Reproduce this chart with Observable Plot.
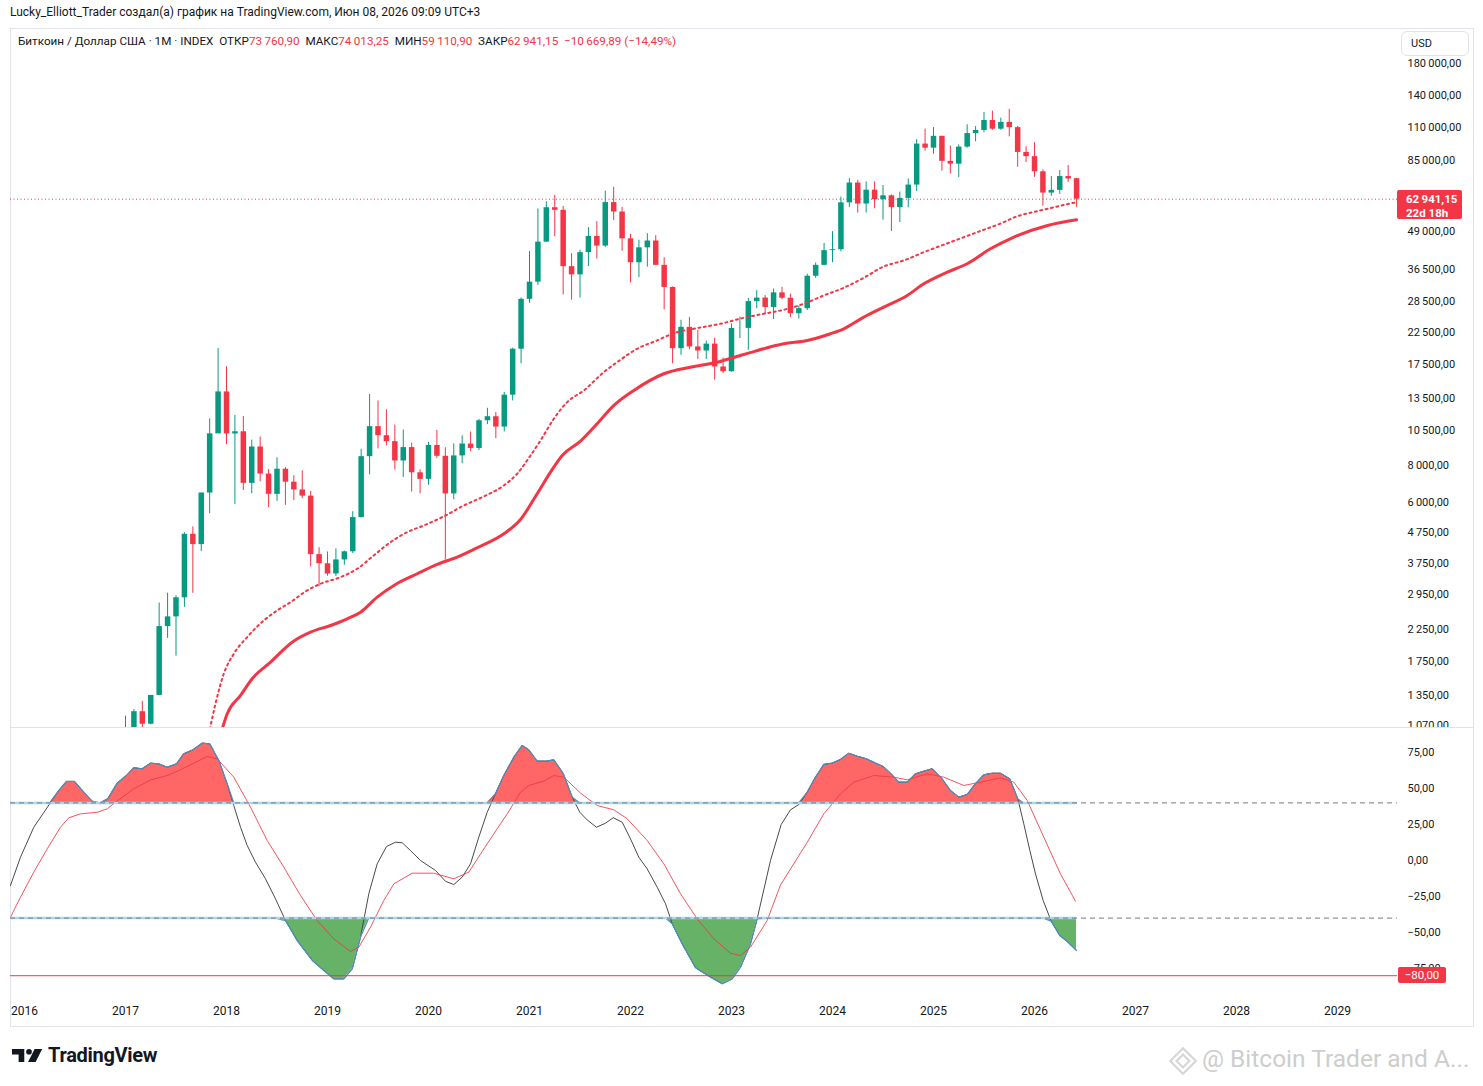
<!DOCTYPE html>
<html><head><meta charset="utf-8">
<script src="https://cdn.jsdelivr.net/npm/d3@7"></script>
<script src="https://cdn.jsdelivr.net/npm/@observablehq/plot@0.6"></script>
<style>
body{margin:0;background:#fff;font-family:Roboto,"Noto Sans",sans-serif;color:#131722;}
#root{position:relative;width:1483px;height:1086px;overflow:hidden;background:#fff;}
.abs{position:absolute;}
.red{color:#f23645;}
</style></head><body><div id="root">
<div class="abs" style="left:10px;top:5px;font-size:12px;white-space:pre;">Lucky_Elliott_Trader создал(а) график на TradingView.com, Июн 08, 2026 09:09 UTC+3</div>
<div class="abs" style="left:10px;top:28px;width:1464px;height:999px;border:1px solid #e0e3eb;box-sizing:border-box;"></div>
<div id="price" class="abs" style="left:10px;top:28px;"></div>
<div class="abs" style="left:10px;top:727px;width:1463px;height:1px;background:#e0e3eb;"></div>
<div id="osc" class="abs" style="left:10px;top:728px;"></div>
<div id="hdr" class="abs" style="left:18px;top:34px;font-size:11.7px;white-space:pre;"></div>
<div class="abs" style="left:1401px;top:31px;width:68px;height:25px;border:1px solid #e0e3eb;border-radius:6px;background:#fff;box-sizing:border-box;font-size:11px;line-height:23px;padding-left:9px;">USD</div>
<div id="plabel" class="abs" style="left:1397px;width:65px;height:29px;background:#f23645;color:#fff;font-size:11.5px;font-weight:700;line-height:14px;padding:2px 0 0 9px;box-sizing:border-box;border-radius:2px;"></div>
<div id="olabel" class="abs" style="left:1398px;width:48px;height:16px;background:#f23645;color:#fff;font-size:11.5px;line-height:16px;text-align:center;border-radius:2px;"></div>
<div class="abs" style="left:12px;top:1046px;"><svg width="34" height="19" viewBox="0 0 36 20"><path d="M0 3h13v14H7V9H0z" fill="#131722"/><circle cx="18" cy="6" r="3" fill="#131722"/><path d="M24 3h8l-7 14h-8z" fill="#131722"/></svg></div>
<div class="abs" style="left:48px;top:1043px;font-size:20px;font-weight:700;letter-spacing:-0.3px;">TradingView</div>
<div class="abs" style="left:1168px;top:1046px;"><svg width="30" height="30" viewBox="0 0 28 28"><path d="M14 2 L26 14 L14 26 L2 14 Z" fill="none" stroke="#d6d6d6" stroke-width="2"/><path d="M14 8 L20 14 L14 20 L8 14 Z" fill="none" stroke="#d6d6d6" stroke-width="2"/></svg></div>
<div class="abs" style="left:1202px;top:1044px;font-size:24.5px;color:#cdcdcd;white-space:pre;">@ Bitcoin Trader and A...</div>
</div>
<script>
// ---- monthly candles, Jan 2016 .. Jun 2026 ----
const firstYear = 2016;
const opens = [
430,368,437,416,448,531,673,624,575,609,698,742,
963,970,1190,1080,1350,2300,2480,2875,4700,4340,6470,10230,
14156,10221,10397,6973,9240,7494,6404,7780,7037,6625,6317,4017,
3742,3457,3854,4105,5350,8574,10817,10085,9630,8293,9199,7569,
7193,9350,8599,6424,8624,9454,9137,11323,11681,10784,13804,19700,
28990,33114,45137,58918,57750,37332,35040,41626,47166,43790,61318,57005,
46306,38483,43193,45538,37714,31792,19785,23336,20050,19431,20495,17168,
16547,23139,23147,28478,29268,27219,30477,29230,25940,26962,34667,37712,
42265,42580,61198,71333,60636,67491,62678,64619,58969,63329,70215,96449,
93429,102405,84373,82548,94207,104638,107135,115758,108236,114056,109556,90400,
87500,77800,66000,67400,75000,73760.90];
const highs = [
462,448,439,467,550,780,704,628,629,720,753,979,
1150,1210,1290,1350,2760,2980,2920,4760,4975,6470,11500,19800,
17200,11800,11700,9750,9990,7760,8500,7880,7400,7680,6550,4240,
4100,4200,4130,5600,9080,13880,13200,12330,10950,10540,9520,7750,
9580,10500,9190,9460,10070,10380,11440,12470,12070,14100,19860,29300,
41950,58350,61700,64850,59500,41300,42400,50500,52900,67000,69000,59100,
47950,45800,48200,47450,40000,31900,24650,25200,22800,20990,21450,18400,
23950,25250,29200,31000,29850,31400,31800,30200,27500,35200,38400,44700,
48970,64000,73800,72800,71950,71950,70000,65100,66500,73600,99800,108300,
109600,102500,95000,95800,112000,110400,123200,124500,117900,126200,110600,94500,
97500,79000,75000,78600,81700,74013.25];
const lows = [
350,365,391,412,437,525,605,468,571,605,681,742,
755,915,890,1075,1350,2100,1830,2670,2975,4110,5510,10900,
9400,5920,6600,6440,7060,5780,6070,5880,6100,6200,3650,3130,
3400,3390,3700,4050,5330,7450,9100,9320,7730,7300,6520,6430,
6870,8450,3850,6150,8120,8900,8990,10980,9860,10380,13200,17600,
28130,32300,45000,47050,30000,28800,29300,37400,39600,43300,53300,42000,
32900,34300,37200,37700,26700,17600,18800,19600,18200,18200,15500,16300,
16500,21400,19550,26950,25800,24800,28900,25200,24900,26550,34100,37600,
38500,41880,59000,56500,56550,58450,53500,49000,52550,58900,66800,91300,
89200,78200,76600,74400,93400,98200,105300,107300,107300,102000,80600,83600,
74600,59600,64400,65300,71600,59110.90];
const closes = [
368,437,416,448,531,673,624,575,609,698,742,963,
970,1190,1080,1350,2300,2480,2875,4700,4340,6470,10230,14156,
10221,10397,6973,9240,7494,6404,7780,7037,6625,6317,4017,3742,
3457,3854,4105,5350,8574,10817,10085,9630,8293,9199,7569,7193,
9350,8599,6424,8624,9454,9137,11323,11681,10784,13804,19700,28990,
33114,45137,58918,57750,37332,35040,41626,47166,43790,61318,57005,46306,
38483,43193,45538,37714,31792,19785,23336,20050,19431,20495,17168,16547,
23139,23147,28478,29268,27219,30477,29230,25940,26962,34667,37712,42265,
42580,61198,71333,60636,67491,62678,64619,58969,63329,70215,96449,93429,
102405,84373,82548,94207,104638,107135,115758,108236,114056,109556,90400,87500,
77800,66000,67400,75000,73611.04,62941.15];

// ---- moving averages, decimal years ----
const dottedYears = [2017.835,2017.891,2017.973,2018.072,2018.205,2018.369,2018.502,2018.634,2018.799,2018.931,2019.129,2019.294,2019.458,2019.624,2019.789,2019.953,2020.151,2020.35,2020.548,2020.746,2020.878,2021.01,2021.109,2021.241,2021.373,2021.538,2021.736,2021.901,2022.066,2022.264,2022.429,2022.66,2022.891,2023.122,2023.32,2023.518,2023.716,2023.914,2024.112,2024.31,2024.508,2024.706,2024.904,2025.168,2025.433,2025.696,2025.792,2026.089,2026.416];
const dottedValues = [1040,1266,1597,1864,2120,2412,2606,2779,3043,3205,3373,3599,3990,4423,4778,5032,5398,5877,6301,6862,7512,8653,9719,11497,13075,14316,16494,18155,19770,21085,22308,23193,23988,25130,25925,26737,28012,29874,31703,34247,37386,39164,41760,45120,48753,52686,54513,57996,61496];
const solidYears = [2017.957,2018.007,2018.139,2018.254,2018.436,2018.65,2018.832,2019.03,2019.195,2019.327,2019.492,2019.673,2019.888,2020.086,2020.284,2020.482,2020.746,2020.911,2021.076,2021.208,2021.324,2021.505,2021.67,2021.835,2022.033,2022.33,2022.594,2022.858,2023.122,2023.518,2023.75,2023.98,2024.112,2024.31,2024.508,2024.74,2024.904,2025.136,2025.334,2025.564,2025.77,2026.129,2026.416];
const solidValues = [1040,1171,1350,1536,1747,2039,2203,2320,2444,2572,2889,3188,3463,3722,3939,4235,4719,5272,6434,7605,8653,9667,11061,12745,14316,16290,17144,17819,18916,20553,21085,22206,23081,25246,27292,29874,32697,35778,38170,42870,46500,51346,53660];

// ---- oscillator ----
const oscYears = [2015.861,2015.96,2016.092,2016.25,2016.34,2016.416,2016.495,2016.587,2016.67,2016.746,2016.825,2016.918,2017.01,2017.082,2017.165,2017.248,2017.33,2017.413,2017.505,2017.577,2017.67,2017.759,2017.835,2017.924,2018.007,2018.072,2018.139,2018.205,2018.287,2018.386,2018.485,2018.584,2018.7,2018.849,2018.963,2019.062,2019.161,2019.245,2019.327,2019.409,2019.492,2019.584,2019.673,2019.74,2019.822,2019.921,2020.069,2020.168,2020.25,2020.333,2020.416,2020.498,2020.581,2020.663,2020.746,2020.845,2020.928,2020.993,2021.076,2021.168,2021.241,2021.333,2021.423,2021.498,2021.571,2021.663,2021.752,2021.829,2021.918,2022.0,2022.082,2022.165,2022.264,2022.347,2022.413,2022.512,2022.644,2022.792,2022.908,2023.007,2023.089,2023.188,2023.254,2023.386,2023.492,2023.584,2023.667,2023.75,2023.832,2023.914,2023.997,2024.079,2024.162,2024.245,2024.337,2024.426,2024.502,2024.581,2024.657,2024.74,2024.822,2024.904,2024.987,2025.086,2025.168,2025.25,2025.334,2025.416,2025.498,2025.581,2025.663,2025.756,2025.835,2025.894,2025.954,2026.01,2026.086,2026.165,2026.25,2026.33,2026.416];
const oscValues = [-17.4,2.3,23.1,39.4,48.6,54.9,54.9,47.4,41.2,39.4,42.8,53.7,59.0,64.4,63.7,67.6,67.1,64.8,67.1,74.1,76.9,81.5,81.0,69.4,53.3,38.2,23.1,10.4,-1.2,-12.7,-26.6,-41.7,-55.6,-69.4,-76.4,-82.2,-82.2,-75.2,-53.2,-23.1,-2.3,9.7,12.7,12.3,6.9,0,-6.9,-14.4,-16.7,-11.6,-2.3,16.2,33.5,46.3,59.0,71.7,79.9,76.9,69.0,69.0,69.9,60.6,44.0,33.5,28.2,23.1,25.9,29.7,26.6,15.0,2.3,-5.8,-18.5,-30.1,-44.0,-57.9,-74.5,-81.0,-85.6,-82.2,-74.1,-57.9,-40.5,0,25,35.2,38.9,47.4,57.9,66.7,67.6,70.1,74.5,72.4,70.6,67.6,65.3,60.2,54.4,54.4,60.2,62.0,63.7,56.7,48.6,44.0,45.8,53.3,59.5,60.6,60.6,56.7,42.8,25.5,6.9,-9.3,-27.8,-42.1,-52.1,-56.7,-62.5];
const sigYears = [2015.861,2015.96,2016.092,2016.225,2016.356,2016.439,2016.554,2016.72,2016.819,2016.901,2017.082,2017.248,2017.413,2017.545,2017.676,2017.809,2017.908,2018.072,2018.238,2018.403,2018.567,2018.733,2018.898,2019.062,2019.228,2019.31,2019.426,2019.557,2019.657,2019.839,2020.052,2020.25,2020.399,2020.581,2020.779,2020.911,2020.993,2021.141,2021.241,2021.34,2021.505,2021.67,2021.835,2021.967,2022.165,2022.33,2022.495,2022.66,2022.825,2022.99,2023.089,2023.188,2023.353,2023.485,2023.75,2023.914,2024.079,2024.211,2024.409,2024.607,2024.74,2024.937,2025.102,2025.3,2025.465,2025.663,2025.795,2025.928,2026.092,2026.257,2026.406];
const sigValues = [-39.4,-25.5,-8.1,8.1,23.1,29.7,32.4,33.5,35.9,40.5,49.8,56.0,59.0,63.0,67.6,72.2,70.6,57.9,37.0,13.9,-4.6,-24.3,-41.7,-54.4,-63.2,-60.2,-46.3,-27.8,-16.2,-8.8,-8.8,-12.7,-8.1,11.6,32.4,47.4,52.1,55.1,59.0,57.9,46.8,38.2,35.2,29.0,13.9,-2.3,-23.1,-40.5,-54.4,-64.4,-66.0,-60.2,-41.7,-17.0,12.7,32.4,46.3,54.4,59.0,57.9,56.0,60.2,57.9,52.1,54.4,57.4,54.4,41.7,16.2,-9.3,-28.3];
const oscUpper = 40, oscLower = -40, oscFloor = -80;

// ---- axes ----
const priceTicks = [180000,140000,110000,85000,65000,49000,36500,28500,22500,17500,13500,10500,8000,6000,4750,3750,2950,2250,1750,1350,1070];
const oscTicks = [75,50,25,0,-25,-50,-75];
const yearTicks = [2016,2017,2018,2019,2020,2021,2022,2023,2024,2025,2026,2027,2028,2029];
const timerText = "22d 18h";

function fmt(v, dec) {
  if (typeof dec !== "number" || dec > 4) dec = 2;
  const neg = v < 0;
  let [i, f] = Math.abs(v).toFixed(dec).split(".");
  i = i.replace(/\B(?=(\d{3})+(?!\d))/g, "\u2009");
  return (neg ? "\u2212" : "") + i + (f ? "," + f : "");
}
const fmt2 = v => fmt(+v, 2);

const candles = opens.map((o, i) => ({t: firstYear + i / 12, o, h: highs[i], l: lows[i], c: closes[i]}));
const dotted = dottedYears.map((t, i) => ({t, v: dottedValues[i]}));
const solid = solidYears.map((t, i) => ({t, v: solidValues[i]}));
const osc = oscYears.map((t, i) => ({t, v: oscValues[i]}));
const sig = sigYears.map((t, i) => ({t, v: sigValues[i]}));

const xDomain = [2016 - 14 / 101, 2016 + 1373 / 101];
const UP = "#089981", DOWN = "#f23645";
const colorOf = d => d.c >= d.o ? UP : DOWN;
const lastC = candles[candles.length - 1];
const prevC = candles[candles.length - 2];

const priceChart = Plot.plot({
  width: 1463, height: 700,
  marginLeft: 0, marginRight: 76, marginTop: 0, marginBottom: 0,
  x: {domain: xDomain, axis: null},
  y: {type: "log", domain: [1045, 236000], axis: null},
  style: {fontFamily: "Roboto, sans-serif", fontSize: "11px", color: "#131722", background: "transparent"},
  marks: [
    Plot.ruleY([lastC.c], {stroke: "#f23645", strokeWidth: 1, strokeDasharray: "1,2.5"}),
    Plot.ruleX(candles, {x: "t", y1: "l", y2: "h", stroke: colorOf, strokeWidth: 1, clip: true}),
    Plot.ruleX(candles, {x: "t", y1: "o", y2: "c", stroke: colorOf, strokeWidth: 5.5, clip: true}),
    Plot.line(dotted, {x: "t", y: "v", stroke: "#f23645", strokeWidth: 2, strokeDasharray: "2,3.5", curve: "monotone-x", clip: true}),
    Plot.line(solid, {x: "t", y: "v", stroke: "#f23645", strokeWidth: 3, curve: "monotone-x", clip: true}),
    Plot.text(priceTicks, {x: xDomain[1], y: d => d, text: fmt2, textAnchor: "start", dx: 10, fill: "#131722", fontSize: 11})
  ]
});
document.getElementById("price").appendChild(priceChart);

const oscChart = Plot.plot({
  width: 1463, height: 300,
  marginLeft: 0, marginRight: 76, marginTop: 0, marginBottom: 32,
  x: {domain: xDomain, axis: null},
  y: {domain: [-94.44, 91.67], axis: null},
  style: {fontFamily: "Roboto, sans-serif", fontSize: "11px", color: "#131722", background: "transparent"},
  marks: [
    Plot.areaY(osc, {x: "t", y1: oscUpper, y2: d => Math.max(d.v, oscUpper), fill: "#ff6666", clip: true}),
    Plot.areaY(osc, {x: "t", y1: oscLower, y2: d => Math.min(d.v, oscLower), fill: "#66b266", clip: true}),
    Plot.line(osc, {x: "t", y: "v", stroke: "#4a4a4a", strokeWidth: 1, clip: true}),
    Plot.line(sig, {x: "t", y: "v", stroke: "#f23645", strokeWidth: 1, strokeOpacity: 0.85, clip: true}),
    Plot.line(osc, {x: "t", y: d => Math.max(d.v, oscUpper), stroke: "#4f8fbf", strokeWidth: 1.2, clip: true}),
    Plot.line(osc, {x: "t", y: d => Math.min(d.v, oscLower), stroke: "#4f8fbf", strokeWidth: 1.2, clip: true}),
    Plot.ruleY([oscUpper, oscLower], {x1: xDomain[0], x2: oscYears[oscYears.length - 1], stroke: "#a9d7ee", strokeWidth: 2.5}),
    Plot.ruleY([oscUpper, oscLower], {stroke: "#787b86", strokeWidth: 1, strokeDasharray: "5,4"}),
    Plot.ruleY([oscFloor], {stroke: "#f23645", strokeWidth: 1}),
    Plot.text(oscTicks, {x: xDomain[1], y: d => d, text: fmt2, textAnchor: "start", dx: 10, fill: "#131722", fontSize: 11}),
    Plot.axisX({ticks: yearTicks, tickSize: 0, tickPadding: 10, tickFormat: d => String(d), label: null, fontSize: 12, fill: "#131722"})
  ]
});
document.getElementById("osc").appendChild(oscChart);

// header
const hdr = document.getElementById("hdr");
const chg = lastC.c - prevC.c, pct = chg / prevC.c * 100;
hdr.innerHTML = `Биткоин / Доллар США · 1M · INDEX  ОТКР<span class="red">${fmt2(lastC.o)}</span>  МАКС<span class="red">${fmt2(lastC.h)}</span>  МИН<span class="red">${fmt2(lastC.l)}</span>  ЗАКР<span class="red">${fmt2(lastC.c)}</span>  <span class="red">${fmt2(chg)} (${fmt2(pct)}%)</span>`;

// price label
const py = priceChart.scale("y").apply(lastC.c);
const pl = document.getElementById("plabel");
pl.style.top = (28 + py - 9) + "px";
pl.innerHTML = fmt2(lastC.c) + "<br>" + timerText;

const oy = oscChart.scale("y").apply(oscFloor);
const ol = document.getElementById("olabel");
ol.style.top = (728 + oy - 8) + "px";
ol.textContent = fmt2(oscFloor);
</script>
</body></html>
